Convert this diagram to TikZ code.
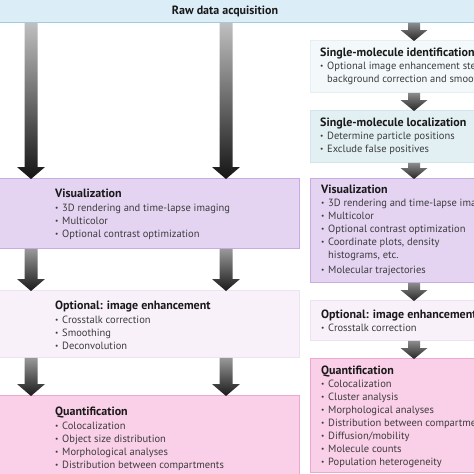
\documentclass[tikz,border=0pt]{standalone}
\usepackage{fontspec}
\setmainfont{PT Sans}
\usepackage{graphicx}
\usetikzlibrary{calc}

\definecolor{bannerfill}{RGB}{219,237,247}
\definecolor{bannerline}{RGB}{160,204,225}
\definecolor{identfill}{RGB}{243,248,250}
\definecolor{identline}{RGB}{230,239,243}
\definecolor{locfill}{RGB}{226,240,244}
\definecolor{locline}{RGB}{208,229,236}
\definecolor{visfill}{RGB}{228,212,242}
\definecolor{visline}{RGB}{200,172,225}
\definecolor{optfill}{RGB}{248,241,250}
\definecolor{optline}{RGB}{237,225,243}
\definecolor{quantfill}{RGB}{250,208,232}
\definecolor{quantline}{RGB}{236,168,207}
\definecolor{bodygray}{RGB}{60,60,60}
\definecolor{titlegray}{RGB}{25,25,25}

\newcommand{\itm}{\makebox[7pt][l]{\raisebox{0.15ex}{\scalebox{0.7}{\textbullet}}}}
\newcommand{\cnt}{\hspace*{7pt}}
\newcommand{\ttl}[1]{{\fontsize{12}{14}\selectfont\bfseries\color{titlegray}#1}}

% fat shaded arrow from one box down to the next, along a column
\newcommand{\flowarrow}[4]{%
  \shade[#1] let \p1=(#2 |- #3.south), \p2=(#2 |- #4.north) in
    (\x1-\shaftw,\y1) -- (\x1+\shaftw,\y1) -- (\x1+\shaftw,\y2+\headl)
    -- (\x1+\headw,\y2+\headl) -- (\x1,\y2-1pt) -- (\x1-\headw,\y2+\headl)
    -- (\x1-\shaftw,\y2+\headl) -- cycle;}

\begin{document}
\begin{tikzpicture}[x=1pt, y=-1pt,
  box/.style={rectangle, draw, line width=0.8pt, anchor=north west, inner sep=0pt},
  txt/.style={anchor=west, align=left, inner sep=0pt,
    font=\fontsize{10.5}{13}\selectfont, text=bodygray},
  longarrow/.style={top color=black!25, bottom color=black!92,
    /utils/exec={\def\shaftw{6.5pt}\def\headw{14pt}\def\headl{11pt}}},
  midarrow/.style={top color=black!40, bottom color=black!90,
    /utils/exec={\def\shaftw{6.5pt}\def\headw{14pt}\def\headl{11pt}}},
  shortarrow/.style={top color=black!45, bottom color=black!85,
    /utils/exec={\def\shaftw{6pt}\def\headw{13.5pt}\def\headl{10pt}}}]
\useasboundingbox (0,0) rectangle (474,474);
\clip (0,0) rectangle (474,474);

% columns
\coordinate (colA) at (31,0);
\coordinate (colB) at (226,0);
\coordinate (colC) at (414,0);

% boxes
\node[box, fill=bannerfill, draw=bannerline, minimum width=490pt, minimum height=23pt] (banner) at (-5,-1) {};
\node[font=\fontsize{12}{14}\selectfont\bfseries, text=titlegray, inner sep=0pt] (bannertxt) at (225,11.5) {Raw data acquisition};

\node[box, fill=identfill, draw=identline, minimum width=230pt, minimum height=52pt] (identB) at (310,40) {};
\node[box, fill=locfill, draw=locline, minimum width=230pt, minimum height=52pt] (locB) at (310,110) {};
\node[box, fill=visfill, draw=visline, minimum width=300pt, minimum height=70pt] (visA) at (-1,178) {};
\node[box, fill=visfill, draw=visline, minimum width=230pt, minimum height=104pt] (visB) at (310,178) {};
\node[box, fill=optfill, draw=optline, minimum width=300pt, minimum height=67pt] (optA) at (-1,290) {};
\node[box, fill=optfill, draw=optline, minimum width=230pt, minimum height=40pt] (optB) at (310,300) {};
\node[box, fill=quantfill, draw=quantline, minimum width=300pt, minimum height=86pt] (quantA) at (-1,395) {};
\node[box, fill=quantfill, draw=quantline, minimum width=230pt, minimum height=114pt] (quantB) at (310,358) {};

% texts
\node[txt] (identtxt) at ([xshift=10pt]identB.west) {\ttl{Single-molecule identification}\\
  \itm Optional image enhancement steps:\\ \cnt background correction and smoothing};
\node[txt] (loctxt) at ([xshift=10pt]locB.west) {\ttl{Single-molecule localization}\\
  \itm Determine particle positions\\ \itm Exclude false positives};
\node[txt] (visAtxt) at ([xshift=56pt, yshift=-1pt]visA.west) {\ttl{Visualization}\\[1pt]
  \itm 3D rendering and time-lapse imaging\\ \itm Multicolor\\ \itm Optional contrast optimization};
\node[txt] (visBtxt) at ([xshift=11pt]visB.west) {\ttl{Visualization}\\
  \itm 3D rendering and time-lapse imaging\\ \itm Multicolor\\ \itm Optional contrast optimization\\
  \itm Coordinate plots, density\\ \cnt histograms, etc.\\[2pt] \itm Molecular trajectories};
\node[txt] (optAtxt) at ([xshift=56pt, yshift=-1pt]optA.west) {\ttl{Optional: image enhancement}\\[1pt]
  \itm Crosstalk correction\\ \itm Smoothing\\ \itm Deconvolution};
\node[txt] (optBtxt) at ([xshift=11pt]optB.west) {\ttl{Optional: image enhancement}\\
  \itm Crosstalk correction};
\node[txt] (quantAtxt) at ([xshift=56pt]quantA.west) {\ttl{Quantification}\\[1pt]
  \itm Colocalization\\ \itm Object size distribution\\ \itm Morphological analyses\\
  \itm Distribution between compartments};
\node[txt] (quantBtxt) at ([xshift=11pt, yshift=-1pt]quantB.west) {\ttl{Quantification}\\
  \itm Colocalization\\ \itm Cluster analysis\\ \itm Morphological analyses\\
  \itm Distribution between compartments\\ \itm Diffusion/mobility\\ \itm Molecule counts\\
  \itm Population heterogeneity};

% arrows
\flowarrow{longarrow}{colA}{banner}{visA}
\flowarrow{longarrow}{colB}{banner}{visA}
\flowarrow{midarrow}{colA}{visA}{optA}
\flowarrow{midarrow}{colB}{visA}{optA}
\flowarrow{midarrow}{colA}{optA}{quantA}
\flowarrow{midarrow}{colB}{optA}{quantA}
\flowarrow{shortarrow}{colC}{banner}{identB}
\flowarrow{shortarrow}{colC}{identB}{locB}
\flowarrow{shortarrow}{colC}{locB}{visB}
\flowarrow{shortarrow}{colC}{visB}{optB}
\flowarrow{shortarrow}{colC}{optB}{quantB}
\end{tikzpicture}
\end{document}
